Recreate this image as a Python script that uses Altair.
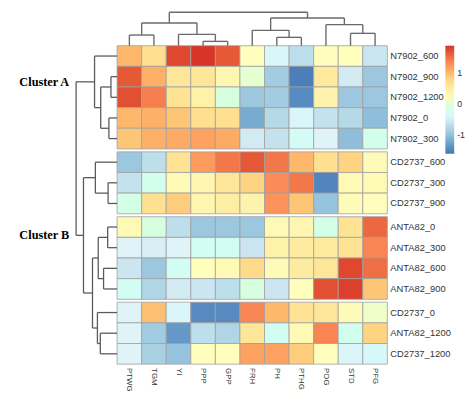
import altair as alt
import pandas as pd
import numpy as np

# ---------------- data ----------------
columns = ["PTWG", "TGM", "YI", "PPP", "GPP", "FRH", "PH", "PTHG", "POG", "STD", "PFG"]
rows = ["N7902_600", "N7902_900", "N7902_1200", "N7902_0", "N7902_300",
        "CD2737_600", "CD2737_300", "CD2737_900",
        "ANTA82_0", "ANTA82_300", "ANTA82_600", "ANTA82_900",
        "CD2737_0", "ANTA82_1200", "CD2737_1200"]
row_groups = [0, 0, 0, 0, 0, 1, 1, 1, 2, 2, 2, 2, 3, 3, 3]

zscores = [
    [1.00, 0.70, 1.75, 1.85, 1.65, 0.15, -0.40, -0.70, 0.15, 0.15, -0.60],
    [1.65, 1.05, 0.60, 0.60, 0.30, 0.00, -0.90, -1.55, 0.55, -0.55, -0.95],
    [1.70, 1.40, 0.65, 0.40, -0.10, -0.95, -0.90, -1.45, 0.35, -0.95, -0.95],
    [1.00, 1.05, 0.90, 0.70, 0.70, -1.20, -0.75, -0.40, -0.65, -0.75, -1.05],
    [0.90, 1.05, 1.10, 1.15, 1.10, -0.55, -0.65, -0.30, -0.45, -1.05, -0.20],
    [-0.95, -0.70, 0.65, 1.20, 1.45, 1.65, 1.45, 1.00, 0.70, 0.80, 0.20],
    [-0.65, -0.20, 0.25, 0.30, 0.60, 0.80, 1.30, 1.45, -1.50, 0.25, 0.25],
    [-0.15, 0.70, 0.85, 0.30, 0.45, 0.35, 1.25, 0.90, -1.00, 0.20, 0.15],
    [0.25, -0.10, -0.70, -0.95, -0.95, -0.95, 0.25, 0.30, -0.15, 0.65, 1.55],
    [-0.45, -0.50, -0.45, -0.25, -0.25, -0.60, 0.40, 0.50, 0.55, 0.65, 1.35],
    [-0.60, -0.95, -0.25, 0.15, 0.25, 0.75, 0.20, 0.50, 0.60, 1.75, 1.50],
    [-0.25, -0.80, -0.55, -0.60, -0.70, -0.10, -0.60, 0.15, 1.70, 1.80, 0.90],
    [-0.45, 0.95, -0.40, -1.45, -1.45, 1.35, 1.00, 0.65, 0.60, 0.20, 0.05],
    [-0.45, -0.90, -1.35, -0.70, -0.80, 0.60, -0.25, 0.25, 1.35, -0.20, 0.80],
    [-0.45, -0.85, -1.00, 0.15, 0.15, 1.15, 1.15, 0.85, 0.15, -0.40, -0.35],
]

# dendrograms: [left, right, merge height]
col_tree = [[["PTWG", "TGM", 3.2], ["YI", ["PPP", "GPP", 1.3], 3.4], 6.8],
            [["FRH", ["PH", "PTHG", 2.5], 4.6], ["POG", ["STD", "PFG", 3.7], 6.3], 8.3],
            10.0]
cluster_a = ["N7902_600", [["N7902_900", "N7902_1200", 1.5], ["N7902_0", "N7902_300", 2.0], 4.0], 5.5]
cluster_b = [["CD2737_600", ["CD2737_300", "CD2737_900", 2.2], 5.3],
             [[["ANTA82_0", "ANTA82_300", 2.3], ["ANTA82_600", "ANTA82_900", 3.3], 4.6],
              ["CD2737_0", ["ANTA82_1200", "CD2737_1200", 4.1], 4.8], 6.0],
             8.2]
row_tree = [cluster_a, cluster_b, 10.0]
cluster_labels = ["Cluster A", "Cluster B"]

color_min, color_max = -1.62, 1.87
palette = ["#4575b4", "#91bfdb", "#e0f3f8", "#ffffbf", "#fee090", "#fc8d59", "#d73027"]
legend_ticks = [-1, 0, 1]

# ---------------- layout (pixels) ----------------
W, H = 466, 386
COL_PX, ROW_PX = 25, 21
GAP = 3 / ROW_PX
HM_LEFT, HM_TOP = 111, 35
TOP_DENDRO_PX, LEFT_DENDRO_PX = 34, 41.7

x_dom = [-HM_LEFT / COL_PX, (W - HM_LEFT) / COL_PX]
y_dom = [-HM_TOP / ROW_PX, (H - HM_TOP) / ROW_PX]

row_pos = {r: i + GAP * g for i, (r, g) in enumerate(zip(rows, row_groups))}
row_center = {r: p + 0.5 for r, p in row_pos.items()}
col_center = {c: i + 0.5 for i, c in enumerate(columns)}

# heatmap cells
cells = []
for r, vals in zip(rows, zscores):
    for i, (c, v) in enumerate(zip(columns, vals)):
        cells.append({"row": r, "col": c, "x": i, "x2": i + 1,
                      "y": row_pos[r], "y2": row_pos[r] + 1, "value": v})
cells = pd.DataFrame(cells)


def build(tree, leafpos, segs, nodes):
    if isinstance(tree, str):
        return leafpos[tree], 0.0
    l, r, h = tree
    pl, hl = build(l, leafpos, segs, nodes)
    pr, hr = build(r, leafpos, segs, nodes)
    segs += [(pl, hl, pl, h), (pr, hr, pr, h), (pl, h, pr, h)]
    nodes.append(((pl + pr) / 2, h))
    return (pl + pr) / 2, h


# column dendrogram (above)
csegs, cnodes = [], []
build(col_tree, col_center, csegs, cnodes)
croot = col_tree[2]
ch = lambda h: -h / croot * TOP_DENDRO_PX / ROW_PX
col_df = pd.DataFrame([{"x": a, "y": ch(b), "x2": c, "y2": ch(d)} for a, b, c, d in csegs])

# row dendrogram (left)
rsegs, rnodes = [], []
build(row_tree, row_center, rsegs, rnodes)
rroot = row_tree[2]
rh = lambda h: -h / rroot * LEFT_DENDRO_PX / COL_PX
row_df = pd.DataFrame([{"y": a, "x": rh(b), "y2": c, "x2": rh(d)} for a, b, c, d in rsegs])

# cluster label anchors: the two children of the row root
ca_pos, _ = build(cluster_a, row_center, [], [])
cb_pos, _ = build(cluster_b, row_center, [], [])
clab_df = pd.DataFrame({"label": cluster_labels, "y": [ca_pos, cb_pos], "x": [rh(rroot)] * 2})

rowlab_df = pd.DataFrame({"label": rows, "y": [row_center[r] for r in rows], "x": [len(columns)] * len(rows)})
bottom = max(row_pos.values()) + 1
collab_df = pd.DataFrame({"label": columns, "x": [col_center[c] for c in columns], "y": [bottom] * len(columns)})

xs = alt.Scale(domain=x_dom, nice=False, zero=False)
ys = alt.Scale(domain=y_dom, nice=False, zero=False, reverse=True)
X = lambda f: alt.X(f, type="quantitative", scale=xs, axis=None)
Y = lambda f: alt.Y(f, type="quantitative", scale=ys, axis=None)

color_domain = list(np.linspace(color_min, color_max, len(palette)))

heat = alt.Chart(cells).mark_rect(stroke="#a0a0a0", strokeWidth=0.8).encode(
    x=X("x"), x2="x2", y=Y("y"), y2="y2",
    color=alt.Color("value:Q",
                    scale=alt.Scale(domain=color_domain, range=palette, type="linear"),
                    legend=alt.Legend(orient="none", legendX=445, legendY=35, title=None,
                                      direction="vertical", gradientLength=110,
                                      gradientThickness=9, values=legend_ticks,
                                      labelExpr="replace(datum.label, '\u2212', '-')",
                                      labelFontSize=9, labelColor="#333333",
                                      labelFont="Liberation Sans", labelOffset=3,
                                      gradientStrokeWidth=0, padding=0)),
)

cdend = alt.Chart(col_df).mark_rule(color="#6a6a6a", strokeWidth=1.4).encode(
    x=X("x"), x2="x2", y=Y("y"), y2="y2")
rdend = alt.Chart(row_df).mark_rule(color="#5a5a5a", strokeWidth=1.3).encode(
    x=X("x"), x2="x2", y=Y("y"), y2="y2")

rowlab = alt.Chart(rowlab_df).mark_text(align="left", baseline="middle", dx=3,
                                        fontSize=9.5, font="Liberation Sans",
                                        color="#333333").encode(
    x=X("x"), y=Y("y"), text="label:N")
collab = alt.Chart(collab_df).mark_text(align="left", baseline="middle", angle=90, dx=4,
                                        fontSize=8, font="Liberation Sans",
                                        color="#333333").encode(
    x=X("x"), y=Y("y"), text="label:N")
clab = alt.Chart(clab_df).mark_text(align="right", baseline="middle", dx=-7,
                                    fontSize=12.5, font="Liberation Serif",
                                    fontWeight="bold", color="#000000").encode(
    x=X("x"), y=Y("y"), text="label:N")

chart = alt.layer(heat, cdend, rdend, rowlab, collab, clab).properties(
    width=W, height=H, padding=0, autosize=alt.AutoSizeParams(type="none"),
).configure_view(stroke=None)

chart.save("out.html", embed_options={"renderer": "svg", "actions": False})
